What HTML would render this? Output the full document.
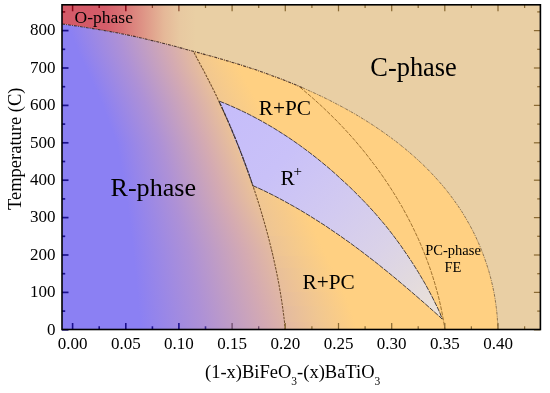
<!DOCTYPE html>
<html><head><meta charset="utf-8"><title>Phase diagram</title>
<style>html,body{margin:0;padding:0;background:#fff;}body{width:550px;height:393px;position:relative;overflow:hidden;font-family:"Liberation Serif",serif;}</style>
</head><body>
<svg width="550" height="393" viewBox="0 0 550 393" style="position:absolute;left:0;top:0;display:block">
<defs>
<linearGradient id="gH" x1="0" y1="0" x2="1" y2="0">
<stop offset="0" stop-color="#8b80f3"/>
<stop offset="0.3" stop-color="#ae91d6"/>
<stop offset="0.6" stop-color="#d4aab2"/>
<stop offset="0.85" stop-color="#eec594"/>
<stop offset="1" stop-color="#ffd082"/>
</linearGradient>
<linearGradient id="gh0" x1="0" y1="0" x2="1" y2="0"><stop offset="0" stop-color="#f1c790"/><stop offset="0.5" stop-color="#f8cc89"/><stop offset="1" stop-color="#ffd082"/></linearGradient>
<linearGradient id="gh1" x1="0" y1="0" x2="1" y2="0"><stop offset="0" stop-color="#f0c692"/><stop offset="0.5" stop-color="#f7cb8a"/><stop offset="1" stop-color="#ffd082"/></linearGradient>
<linearGradient id="gh2" x1="0" y1="0" x2="1" y2="0"><stop offset="0" stop-color="#eec594"/><stop offset="0.5" stop-color="#f6ca8b"/><stop offset="1" stop-color="#ffd082"/></linearGradient>
<linearGradient id="gh3" x1="0" y1="0" x2="1" y2="0"><stop offset="0" stop-color="#ecc396"/><stop offset="0.5" stop-color="#f5ca8c"/><stop offset="1" stop-color="#ffd082"/></linearGradient>
<linearGradient id="gh4" x1="0" y1="0" x2="1" y2="0"><stop offset="0" stop-color="#eac198"/><stop offset="0.5" stop-color="#f4c98d"/><stop offset="1" stop-color="#ffd082"/></linearGradient>
<linearGradient id="gh5" x1="0" y1="0" x2="1" y2="0"><stop offset="0" stop-color="#e8bf9a"/><stop offset="0.5" stop-color="#f3c98e"/><stop offset="1" stop-color="#ffd082"/></linearGradient>
<linearGradient id="gh6" x1="0" y1="0" x2="1" y2="0"><stop offset="0" stop-color="#e7bd9c"/><stop offset="0.5" stop-color="#f3c88f"/><stop offset="1" stop-color="#ffd082"/></linearGradient>
<linearGradient id="gh7" x1="0" y1="0" x2="1" y2="0"><stop offset="0" stop-color="#e5bc9e"/><stop offset="0.5" stop-color="#f2c790"/><stop offset="1" stop-color="#ffd082"/></linearGradient>
<linearGradient id="gh8" x1="0" y1="0" x2="1" y2="0"><stop offset="0" stop-color="#e3baa0"/><stop offset="0.5" stop-color="#f1c791"/><stop offset="1" stop-color="#ffd082"/></linearGradient>
<linearGradient id="gh9" x1="0" y1="0" x2="1" y2="0"><stop offset="0" stop-color="#e2b8a2"/><stop offset="0.5" stop-color="#f0c692"/><stop offset="1" stop-color="#ffd082"/></linearGradient>
<clipPath id="cO"><path d="M191.1 50.7 L198.1 52.6 L205.2 54.6 L212.3 56.5 L219.3 58.5 L226.3 60.6 L233.4 62.7 L240.4 64.8 L247.3 67.1 L254.3 69.3 L261.2 71.7 L268.1 74.2 L275.0 76.7 L281.9 79.3 L288.7 82.0 L295.5 84.8 L302.2 87.6 L308.9 90.6 L315.6 93.6 L322.2 96.7 L328.8 99.9 L335.3 103.3 L341.8 106.7 L348.2 110.2 L354.6 113.8 L360.9 117.6 L367.1 121.4 L373.3 125.4 L379.4 129.5 L385.4 133.7 L391.3 138.0 L397.2 142.4 L402.9 147.0 L408.6 151.7 L414.1 156.5 L419.6 161.5 L424.9 166.5 L430.0 171.7 L435.1 177.1 L439.9 182.5 L444.7 188.1 L449.2 193.8 L453.6 199.7 L457.8 205.6 L461.9 211.7 L465.7 218.0 L469.3 224.3 L472.8 230.8 L476.0 237.4 L479.0 244.1 L481.8 250.9 L484.4 257.7 L486.8 264.7 L489.0 271.7 L490.9 278.8 L492.6 285.9 L494.1 293.1 L495.3 300.3 L496.3 307.6 L497.1 314.9 L497.6 322.2 L497.8 329.5 L285.0 329.5 L284.5 322.0 L283.6 314.5 L282.6 307.0 L281.5 299.6 L280.3 292.2 L279.0 284.8 L277.6 277.4 L276.1 270.0 L274.5 262.6 L272.9 255.3 L271.1 248.0 L269.3 240.7 L267.4 233.4 L265.4 226.1 L263.3 218.9 L261.2 211.6 L259.0 204.4 L256.7 197.2 L254.4 190.1 L251.9 182.9 L249.5 175.8 L246.9 168.7 L244.3 161.7 L241.7 154.6 L239.0 147.6 L236.2 140.6 L233.3 133.7 L230.4 126.7 L227.4 119.8 L224.3 113.0 L221.2 106.1 L218.0 99.3 L214.8 92.5 L211.4 85.8 L208.0 79.1 L204.6 72.4 L201.0 65.7 L197.4 59.1 L194.0 52.4 Z"/></clipPath>
<clipPath id="cR"><path d="M62.0 329.5 L62.0 24.0 L62.0 24.0 L69.3 25.0 L76.5 26.0 L83.8 27.1 L91.0 28.3 L98.3 29.5 L105.5 30.7 L112.7 32.0 L119.9 33.4 L127.1 34.9 L134.2 36.4 L141.4 38.0 L148.5 39.7 L155.6 41.4 L162.7 43.2 L169.8 45.0 L176.9 46.9 L184.0 48.8 L191.1 50.7 L194.0 52.4 L197.4 59.1 L201.0 65.7 L204.6 72.4 L208.0 79.1 L211.4 85.8 L214.8 92.5 L218.0 99.3 L221.2 106.1 L224.3 113.0 L227.4 119.8 L230.4 126.7 L233.3 133.7 L236.2 140.6 L239.0 147.6 L241.7 154.6 L244.3 161.7 L246.9 168.7 L249.5 175.8 L251.9 182.9 L254.4 190.1 L256.7 197.2 L259.0 204.4 L261.2 211.6 L263.3 218.9 L265.4 226.1 L267.4 233.4 L269.3 240.7 L271.1 248.0 L272.9 255.3 L274.5 262.6 L276.1 270.0 L277.6 277.4 L279.0 284.8 L280.3 292.2 L281.5 299.6 L282.6 307.0 L283.6 314.5 L284.5 322.0 L285.0 329.5 L62.0 329.5 L191.1 50.7 L198.1 52.6 L205.2 54.6 L212.3 56.5 L219.3 58.5 L226.3 60.6 L233.4 62.7 L240.4 64.8 L247.3 67.1 L254.3 69.3 L261.2 71.7 L268.1 74.2 L275.0 76.7 L281.9 79.3 L288.7 82.0 L295.5 84.8 L302.2 87.6 L308.9 90.6 L315.6 93.6 L322.2 96.7 L328.8 99.9 L335.3 103.3 L341.8 106.7 L348.2 110.2 L354.6 113.8 L360.9 117.6 L367.1 121.4 L373.3 125.4 L379.4 129.5 L385.4 133.7 L391.3 138.0 L397.2 142.4 L402.9 147.0 L408.6 151.7 L414.1 156.5 L419.6 161.5 L424.9 166.5 L430.0 171.7 L435.1 177.1 L439.9 182.5 L444.7 188.1 L449.2 193.8 L453.6 199.7 L457.8 205.6 L461.9 211.7 L465.7 218.0 L469.3 224.3 L472.8 230.8 L476.0 237.4 L479.0 244.1 L481.8 250.9 L484.4 257.7 L486.8 264.7 L489.0 271.7 L490.9 278.8 L492.6 285.9 L494.1 293.1 L495.3 300.3 L496.3 307.6 L497.1 314.9 L497.6 322.2 L497.8 329.5 L285.0 329.5 L284.5 322.0 L283.6 314.5 L282.6 307.0 L281.5 299.6 L280.3 292.2 L279.0 284.8 L277.6 277.4 L276.1 270.0 L274.5 262.6 L272.9 255.3 L271.1 248.0 L269.3 240.7 L267.4 233.4 L265.4 226.1 L263.3 218.9 L261.2 211.6 L259.0 204.4 L256.7 197.2 L254.4 190.1 L251.9 182.9 L249.5 175.8 L246.9 168.7 L244.3 161.7 L241.7 154.6 L239.0 147.6 L236.2 140.6 L233.3 133.7 L230.4 126.7 L227.4 119.8 L224.3 113.0 L221.2 106.1 L218.0 99.3 L214.8 92.5 L211.4 85.8 L208.0 79.1 L204.6 72.4 L201.0 65.7 L197.4 59.1 L194.0 52.4 Z"/></clipPath>
<linearGradient id="gO" gradientUnits="userSpaceOnUse" x1="90" y1="0" x2="196" y2="0">
<stop offset="0" stop-color="#d45a68"/>
<stop offset="0.15" stop-color="#d55e6a"/>
<stop offset="0.3" stop-color="#d87174"/>
<stop offset="0.5" stop-color="#de9486"/>
<stop offset="0.7" stop-color="#e5b898"/>
<stop offset="0.85" stop-color="#e8c9a1"/>
<stop offset="1" stop-color="#e9cfa4"/>
</linearGradient>
<linearGradient id="gP" gradientUnits="userSpaceOnUse" x1="230" y1="110" x2="440" y2="315">
<stop offset="0" stop-color="#c6bdfa"/>
<stop offset="0.25" stop-color="#c9c1f8"/>
<stop offset="0.5" stop-color="#d2caf0"/>
<stop offset="0.7" stop-color="#dad2e8"/>
<stop offset="0.85" stop-color="#e2dade"/>
<stop offset="1" stop-color="#ece2d8"/>
</linearGradient>
</defs>
<rect x="0" y="0" width="550" height="393" fill="#ffffff"/>
<rect x="62.0" y="4.8" width="478.4" height="324.7" fill="#e9cfa4"/>
<path d="M62.0 4.8 L540.4 4.8 L540.4 329.5 L497.8 329.5 L497.6 322.2 L497.1 314.9 L496.3 307.6 L495.3 300.3 L494.1 293.1 L492.6 285.9 L490.9 278.8 L489.0 271.7 L486.8 264.7 L484.4 257.7 L481.8 250.9 L479.0 244.1 L476.0 237.4 L472.8 230.8 L469.3 224.3 L465.7 218.0 L461.9 211.7 L457.8 205.6 L453.6 199.7 L449.2 193.8 L444.7 188.1 L439.9 182.5 L435.1 177.1 L430.0 171.7 L424.9 166.5 L419.6 161.5 L414.1 156.5 L408.6 151.7 L402.9 147.0 L397.2 142.4 L391.3 138.0 L385.4 133.7 L379.4 129.5 L373.3 125.4 L367.1 121.4 L360.9 117.6 L354.6 113.8 L348.2 110.2 L341.8 106.7 L335.3 103.3 L328.8 99.9 L322.2 96.7 L315.6 93.6 L308.9 90.6 L302.2 87.6 L295.5 84.8 L288.7 82.0 L281.9 79.3 L275.0 76.7 L268.1 74.2 L261.2 71.7 L254.3 69.3 L247.3 67.1 L240.4 64.8 L233.4 62.7 L226.3 60.6 L219.3 58.5 L212.3 56.5 L205.2 54.6 L198.1 52.6 L191.1 50.7 L184.0 48.8 L176.9 46.9 L169.8 45.0 L162.7 43.2 L155.6 41.4 L148.5 39.7 L141.4 38.0 L134.2 36.4 L127.1 34.9 L119.9 33.4 L112.7 32.0 L105.5 30.7 L98.3 29.5 L91.0 28.3 L83.8 27.1 L76.5 26.0 L69.3 25.0 L62.0 24.0 Z" fill="url(#gO)"/>
<g clip-path="url(#cR)">
<rect x="60" y="20" width="440" height="312" fill="#ffd082"/>
<rect x="60" y="22" width="9.1" height="2" fill="#8b80f3"/><rect x="67.1" y="22" width="155.6" height="2" fill="url(#gH)"/>
<rect x="60" y="24" width="9.9" height="2" fill="#8b80f3"/><rect x="67.9" y="24" width="155.3" height="2" fill="url(#gH)"/>
<rect x="60" y="26" width="10.7" height="2" fill="#8b80f3"/><rect x="68.7" y="26" width="155.0" height="2" fill="url(#gH)"/>
<rect x="60" y="28" width="11.4" height="2" fill="#8b80f3"/><rect x="69.4" y="28" width="154.7" height="2" fill="url(#gH)"/>
<rect x="60" y="30" width="12.2" height="2" fill="#8b80f3"/><rect x="70.2" y="30" width="154.4" height="2" fill="url(#gH)"/>
<rect x="60" y="32" width="13.0" height="2" fill="#8b80f3"/><rect x="71.0" y="32" width="154.1" height="2" fill="url(#gH)"/>
<rect x="60" y="34" width="13.7" height="2" fill="#8b80f3"/><rect x="71.7" y="34" width="153.8" height="2" fill="url(#gH)"/>
<rect x="60" y="36" width="14.5" height="2" fill="#8b80f3"/><rect x="72.5" y="36" width="153.5" height="2" fill="url(#gH)"/>
<rect x="60" y="38" width="15.3" height="2" fill="#8b80f3"/><rect x="73.3" y="38" width="153.2" height="2" fill="url(#gH)"/>
<rect x="60" y="40" width="16.0" height="2" fill="#8b80f3"/><rect x="74.0" y="40" width="152.9" height="2" fill="url(#gH)"/>
<rect x="60" y="42" width="16.8" height="2" fill="#8b80f3"/><rect x="74.8" y="42" width="152.6" height="2" fill="url(#gH)"/>
<rect x="60" y="44" width="17.6" height="2" fill="#8b80f3"/><rect x="75.6" y="44" width="152.3" height="2" fill="url(#gH)"/>
<rect x="60" y="46" width="18.3" height="2" fill="#8b80f3"/><rect x="76.3" y="46" width="152.0" height="2" fill="url(#gH)"/>
<rect x="60" y="48" width="19.1" height="2" fill="#8b80f3"/><rect x="77.1" y="48" width="151.7" height="2" fill="url(#gH)"/>
<rect x="60" y="50" width="19.9" height="2" fill="#8b80f3"/><rect x="77.9" y="50" width="151.4" height="2" fill="url(#gH)"/>
<rect x="60" y="52" width="20.6" height="2" fill="#8b80f3"/><rect x="78.6" y="52" width="151.1" height="2" fill="url(#gH)"/>
<rect x="60" y="54" width="21.5" height="2" fill="#8b80f3"/><rect x="79.5" y="54" width="150.8" height="2" fill="url(#gH)"/>
<rect x="60" y="56" width="22.5" height="2" fill="#8b80f3"/><rect x="80.5" y="56" width="150.2" height="2" fill="url(#gH)"/>
<rect x="60" y="58" width="23.5" height="2" fill="#8b80f3"/><rect x="81.5" y="58" width="149.8" height="2" fill="url(#gH)"/>
<rect x="60" y="60" width="24.5" height="2" fill="#8b80f3"/><rect x="82.5" y="60" width="149.2" height="2" fill="url(#gH)"/>
<rect x="60" y="62" width="25.5" height="2" fill="#8b80f3"/><rect x="83.5" y="62" width="148.8" height="2" fill="url(#gH)"/>
<rect x="60" y="64" width="26.5" height="2" fill="#8b80f3"/><rect x="84.5" y="64" width="148.2" height="2" fill="url(#gH)"/>
<rect x="60" y="66" width="27.5" height="2" fill="#8b80f3"/><rect x="85.5" y="66" width="147.8" height="2" fill="url(#gH)"/>
<rect x="60" y="68" width="28.5" height="2" fill="#8b80f3"/><rect x="86.5" y="68" width="147.2" height="2" fill="url(#gH)"/>
<rect x="60" y="70" width="29.4" height="2" fill="#8b80f3"/><rect x="87.4" y="70" width="147.0" height="2" fill="url(#gH)"/>
<rect x="60" y="72" width="30.3" height="2" fill="#8b80f3"/><rect x="88.3" y="72" width="147.0" height="2" fill="url(#gH)"/>
<rect x="60" y="74" width="31.2" height="2" fill="#8b80f3"/><rect x="89.2" y="74" width="147.0" height="2" fill="url(#gH)"/>
<rect x="60" y="76" width="32.1" height="2" fill="#8b80f3"/><rect x="90.1" y="76" width="147.0" height="2" fill="url(#gH)"/>
<rect x="60" y="78" width="33.0" height="2" fill="#8b80f3"/><rect x="91.0" y="78" width="147.0" height="2" fill="url(#gH)"/>
<rect x="60" y="80" width="33.9" height="2" fill="#8b80f3"/><rect x="91.9" y="80" width="147.0" height="2" fill="url(#gH)"/>
<rect x="60" y="82" width="34.7" height="2" fill="#8b80f3"/><rect x="92.7" y="82" width="147.0" height="2" fill="url(#gH)"/>
<rect x="60" y="84" width="35.6" height="2" fill="#8b80f3"/><rect x="93.6" y="84" width="147.0" height="2" fill="url(#gH)"/>
<rect x="60" y="86" width="36.5" height="2" fill="#8b80f3"/><rect x="94.5" y="86" width="147.0" height="2" fill="url(#gH)"/>
<rect x="60" y="88" width="37.4" height="2" fill="#8b80f3"/><rect x="95.4" y="88" width="147.0" height="2" fill="url(#gH)"/>
<rect x="60" y="90" width="38.3" height="2" fill="#8b80f3"/><rect x="96.3" y="90" width="147.0" height="2" fill="url(#gH)"/>
<rect x="60" y="92" width="39.1" height="2" fill="#8b80f3"/><rect x="97.1" y="92" width="147.0" height="2" fill="url(#gH)"/>
<rect x="60" y="94" width="40.0" height="2" fill="#8b80f3"/><rect x="98.0" y="94" width="147.0" height="2" fill="url(#gH)"/>
<rect x="60" y="96" width="40.9" height="2" fill="#8b80f3"/><rect x="98.9" y="96" width="147.0" height="2" fill="url(#gH)"/>
<rect x="60" y="98" width="41.8" height="2" fill="#8b80f3"/><rect x="99.8" y="98" width="147.0" height="2" fill="url(#gH)"/>
<rect x="60" y="100" width="42.7" height="2" fill="#8b80f3"/><rect x="100.7" y="100" width="147.0" height="2" fill="url(#gH)"/>
<rect x="60" y="102" width="43.6" height="2" fill="#8b80f3"/><rect x="101.6" y="102" width="147.0" height="2" fill="url(#gH)"/>
<rect x="60" y="104" width="44.4" height="2" fill="#8b80f3"/><rect x="102.4" y="104" width="147.0" height="2" fill="url(#gH)"/>
<rect x="60" y="106" width="45.1" height="2" fill="#8b80f3"/><rect x="103.1" y="106" width="146.9" height="2" fill="url(#gH)"/>
<rect x="60" y="108" width="45.9" height="2" fill="#8b80f3"/><rect x="103.9" y="108" width="146.9" height="2" fill="url(#gH)"/>
<rect x="60" y="110" width="46.6" height="2" fill="#8b80f3"/><rect x="104.6" y="110" width="146.8" height="2" fill="url(#gH)"/>
<rect x="60" y="112" width="47.4" height="2" fill="#8b80f3"/><rect x="105.4" y="112" width="146.8" height="2" fill="url(#gH)"/>
<rect x="60" y="114" width="48.1" height="2" fill="#8b80f3"/><rect x="106.1" y="114" width="146.7" height="2" fill="url(#gH)"/>
<rect x="60" y="116" width="48.9" height="2" fill="#8b80f3"/><rect x="106.9" y="116" width="146.7" height="2" fill="url(#gH)"/>
<rect x="60" y="118" width="49.6" height="2" fill="#8b80f3"/><rect x="107.6" y="118" width="146.6" height="2" fill="url(#gH)"/>
<rect x="60" y="120" width="50.4" height="2" fill="#8b80f3"/><rect x="108.4" y="120" width="146.6" height="2" fill="url(#gH)"/>
<rect x="60" y="122" width="51.1" height="2" fill="#8b80f3"/><rect x="109.1" y="122" width="146.5" height="2" fill="url(#gH)"/>
<rect x="60" y="124" width="51.9" height="2" fill="#8b80f3"/><rect x="109.9" y="124" width="146.5" height="2" fill="url(#gH)"/>
<rect x="60" y="126" width="52.6" height="2" fill="#8b80f3"/><rect x="110.6" y="126" width="146.4" height="2" fill="url(#gH)"/>
<rect x="60" y="128" width="53.4" height="2" fill="#8b80f3"/><rect x="111.4" y="128" width="146.4" height="2" fill="url(#gH)"/>
<rect x="60" y="130" width="54.1" height="2" fill="#8b80f3"/><rect x="112.1" y="130" width="146.3" height="2" fill="url(#gH)"/>
<rect x="60" y="132" width="54.9" height="2" fill="#8b80f3"/><rect x="112.9" y="132" width="146.3" height="2" fill="url(#gH)"/>
<rect x="60" y="134" width="55.6" height="2" fill="#8b80f3"/><rect x="113.6" y="134" width="146.2" height="2" fill="url(#gH)"/>
<rect x="60" y="136" width="56.4" height="2" fill="#8b80f3"/><rect x="114.4" y="136" width="146.2" height="2" fill="url(#gH)"/>
<rect x="60" y="138" width="57.1" height="2" fill="#8b80f3"/><rect x="115.1" y="138" width="146.1" height="2" fill="url(#gH)"/>
<rect x="60" y="140" width="57.9" height="2" fill="#8b80f3"/><rect x="115.9" y="140" width="146.1" height="2" fill="url(#gH)"/>
<rect x="60" y="142" width="58.6" height="2" fill="#8b80f3"/><rect x="116.6" y="142" width="146.0" height="2" fill="url(#gH)"/>
<rect x="60" y="144" width="59.2" height="2" fill="#8b80f3"/><rect x="117.2" y="144" width="146.2" height="2" fill="url(#gH)"/>
<rect x="60" y="146" width="59.5" height="2" fill="#8b80f3"/><rect x="117.5" y="146" width="146.8" height="2" fill="url(#gH)"/>
<rect x="60" y="148" width="59.9" height="2" fill="#8b80f3"/><rect x="117.9" y="148" width="147.2" height="2" fill="url(#gH)"/>
<rect x="60" y="150" width="60.2" height="2" fill="#8b80f3"/><rect x="118.2" y="150" width="147.8" height="2" fill="url(#gH)"/>
<rect x="60" y="152" width="60.6" height="2" fill="#8b80f3"/><rect x="118.6" y="152" width="148.2" height="2" fill="url(#gH)"/>
<rect x="60" y="154" width="61.0" height="2" fill="#8b80f3"/><rect x="119.0" y="154" width="148.8" height="2" fill="url(#gH)"/>
<rect x="60" y="156" width="61.3" height="2" fill="#8b80f3"/><rect x="119.3" y="156" width="149.2" height="2" fill="url(#gH)"/>
<rect x="60" y="158" width="61.7" height="2" fill="#8b80f3"/><rect x="119.7" y="158" width="149.8" height="2" fill="url(#gH)"/>
<rect x="60" y="160" width="62.0" height="2" fill="#8b80f3"/><rect x="120.0" y="160" width="150.2" height="2" fill="url(#gH)"/>
<rect x="60" y="162" width="62.4" height="2" fill="#8b80f3"/><rect x="120.4" y="162" width="150.8" height="2" fill="url(#gH)"/>
<rect x="60" y="164" width="62.8" height="2" fill="#8b80f3"/><rect x="120.8" y="164" width="151.2" height="2" fill="url(#gH)"/>
<rect x="60" y="166" width="63.1" height="2" fill="#8b80f3"/><rect x="121.1" y="166" width="151.8" height="2" fill="url(#gH)"/>
<rect x="60" y="168" width="63.5" height="2" fill="#8b80f3"/><rect x="121.5" y="168" width="152.2" height="2" fill="url(#gH)"/>
<rect x="60" y="170" width="63.8" height="2" fill="#8b80f3"/><rect x="121.8" y="170" width="152.8" height="2" fill="url(#gH)"/>
<rect x="60" y="172" width="64.2" height="2" fill="#8b80f3"/><rect x="122.2" y="172" width="153.2" height="2" fill="url(#gH)"/>
<rect x="60" y="174" width="64.5" height="2" fill="#8b80f3"/><rect x="122.5" y="174" width="153.8" height="2" fill="url(#gH)"/>
<rect x="60" y="176" width="64.9" height="2" fill="#8b80f3"/><rect x="122.9" y="176" width="154.2" height="2" fill="url(#gH)"/>
<rect x="60" y="178" width="65.2" height="2" fill="#8b80f3"/><rect x="123.2" y="178" width="154.8" height="2" fill="url(#gH)"/>
<rect x="60" y="180" width="65.6" height="2" fill="#8b80f3"/><rect x="123.6" y="180" width="155.2" height="2" fill="url(#gH)"/>
<rect x="60" y="182" width="66.0" height="2" fill="#8b80f3"/><rect x="124.0" y="182" width="155.8" height="2" fill="url(#gH)"/>
<rect x="60" y="184" width="66.3" height="2" fill="#8b80f3"/><rect x="124.3" y="184" width="156.2" height="2" fill="url(#gH)"/>
<rect x="60" y="186" width="66.7" height="2" fill="#8b80f3"/><rect x="124.7" y="186" width="156.8" height="2" fill="url(#gH)"/>
<rect x="60" y="188" width="67.0" height="2" fill="#8b80f3"/><rect x="125.0" y="188" width="157.2" height="2" fill="url(#gH)"/>
<rect x="60" y="190" width="67.4" height="2" fill="#8b80f3"/><rect x="125.4" y="190" width="157.8" height="2" fill="url(#gH)"/>
<rect x="60" y="192" width="67.8" height="2" fill="#8b80f3"/><rect x="125.8" y="192" width="158.2" height="2" fill="url(#gH)"/>
<rect x="60" y="194" width="68.1" height="2" fill="#8b80f3"/><rect x="126.1" y="194" width="158.8" height="2" fill="url(#gH)"/>
<rect x="60" y="196" width="68.5" height="2" fill="#8b80f3"/><rect x="126.5" y="196" width="159.2" height="2" fill="url(#gH)"/>
<rect x="60" y="198" width="68.8" height="2" fill="#8b80f3"/><rect x="126.8" y="198" width="159.8" height="2" fill="url(#gH)"/>
<rect x="60" y="200" width="69.1" height="2" fill="#8b80f3"/><rect x="127.1" y="200" width="160.5" height="2" fill="url(#gH)"/>
<rect x="60" y="202" width="69.4" height="2" fill="#8b80f3"/><rect x="127.4" y="202" width="161.5" height="2" fill="url(#gH)"/>
<rect x="60" y="204" width="69.6" height="2" fill="#8b80f3"/><rect x="127.6" y="204" width="162.5" height="2" fill="url(#gH)"/>
<rect x="60" y="206" width="69.8" height="2" fill="#8b80f3"/><rect x="127.8" y="206" width="163.5" height="2" fill="url(#gH)"/>
<rect x="60" y="208" width="70.1" height="2" fill="#8b80f3"/><rect x="128.1" y="208" width="164.5" height="2" fill="url(#gH)"/>
<rect x="60" y="210" width="70.3" height="2" fill="#8b80f3"/><rect x="128.3" y="210" width="165.5" height="2" fill="url(#gH)"/>
<rect x="60" y="212" width="70.6" height="2" fill="#8b80f3"/><rect x="128.6" y="212" width="166.5" height="2" fill="url(#gH)"/>
<rect x="60" y="214" width="70.8" height="2" fill="#8b80f3"/><rect x="128.8" y="214" width="167.5" height="2" fill="url(#gH)"/>
<rect x="60" y="216" width="71.0" height="2" fill="#8b80f3"/><rect x="129.0" y="216" width="168.5" height="2" fill="url(#gH)"/>
<rect x="60" y="218" width="71.3" height="2" fill="#8b80f3"/><rect x="129.3" y="218" width="169.5" height="2" fill="url(#gH)"/>
<rect x="60" y="220" width="71.5" height="2" fill="#8b80f3"/><rect x="129.5" y="220" width="170.5" height="2" fill="url(#gH)"/>
<rect x="60" y="222" width="71.8" height="2" fill="#8b80f3"/><rect x="129.8" y="222" width="171.5" height="2" fill="url(#gH)"/>
<rect x="60" y="224" width="72.0" height="2" fill="#8b80f3"/><rect x="130.0" y="224" width="172.5" height="2" fill="url(#gH)"/>
<rect x="60" y="226" width="72.2" height="2" fill="#8b80f3"/><rect x="130.2" y="226" width="173.5" height="2" fill="url(#gH)"/>
<rect x="60" y="228" width="72.5" height="2" fill="#8b80f3"/><rect x="130.5" y="228" width="174.5" height="2" fill="url(#gH)"/>
<rect x="60" y="230" width="72.7" height="2" fill="#8b80f3"/><rect x="130.7" y="230" width="175.5" height="2" fill="url(#gH)"/>
<rect x="60" y="232" width="73.0" height="2" fill="#8b80f3"/><rect x="131.0" y="232" width="176.5" height="2" fill="url(#gH)"/>
<rect x="60" y="234" width="73.2" height="2" fill="#8b80f3"/><rect x="131.2" y="234" width="177.5" height="2" fill="url(#gH)"/>
<rect x="60" y="236" width="73.4" height="2" fill="#8b80f3"/><rect x="131.4" y="236" width="178.5" height="2" fill="url(#gH)"/>
<rect x="60" y="238" width="73.7" height="2" fill="#8b80f3"/><rect x="131.7" y="238" width="179.5" height="2" fill="url(#gH)"/>
<rect x="60" y="240" width="73.9" height="2" fill="#8b80f3"/><rect x="131.9" y="240" width="180.5" height="2" fill="url(#gH)"/>
<rect x="60" y="242" width="74.2" height="2" fill="#8b80f3"/><rect x="132.2" y="242" width="181.5" height="2" fill="url(#gH)"/>
<rect x="60" y="244" width="74.4" height="2" fill="#8b80f3"/><rect x="132.4" y="244" width="182.5" height="2" fill="url(#gH)"/>
<rect x="60" y="246" width="74.6" height="2" fill="#8b80f3"/><rect x="132.6" y="246" width="183.5" height="2" fill="url(#gH)"/>
<rect x="60" y="248" width="74.9" height="2" fill="#8b80f3"/><rect x="132.9" y="248" width="184.5" height="2" fill="url(#gH)"/>
<rect x="60" y="250" width="75.1" height="2" fill="#8b80f3"/><rect x="133.1" y="250" width="185.3" height="2" fill="url(#gH)"/>
<rect x="60" y="252" width="75.3" height="2" fill="#8b80f3"/><rect x="133.3" y="252" width="186.0" height="2" fill="url(#gH)"/>
<rect x="60" y="254" width="75.5" height="2" fill="#8b80f3"/><rect x="133.5" y="254" width="186.7" height="2" fill="url(#gH)"/>
<rect x="60" y="256" width="75.7" height="2" fill="#8b80f3"/><rect x="133.7" y="256" width="187.3" height="2" fill="url(#gH)"/>
<rect x="60" y="258" width="75.9" height="2" fill="#8b80f3"/><rect x="133.9" y="258" width="188.0" height="2" fill="url(#gH)"/>
<rect x="60" y="260" width="76.1" height="2" fill="#8b80f3"/><rect x="134.1" y="260" width="188.7" height="2" fill="url(#gH)"/>
<rect x="60" y="262" width="76.3" height="2" fill="#8b80f3"/><rect x="134.3" y="262" width="189.3" height="2" fill="url(#gH)"/>
<rect x="60" y="264" width="76.5" height="2" fill="#8b80f3"/><rect x="134.5" y="264" width="190.0" height="2" fill="url(#gH)"/>
<rect x="60" y="266" width="76.7" height="2" fill="#8b80f3"/><rect x="134.7" y="266" width="190.7" height="2" fill="url(#gH)"/>
<rect x="60" y="268" width="76.9" height="2" fill="#8b80f3"/><rect x="134.9" y="268" width="191.3" height="2" fill="url(#gH)"/>
<rect x="60" y="270" width="77.1" height="2" fill="#8b80f3"/><rect x="135.1" y="270" width="192.0" height="2" fill="url(#gH)"/>
<rect x="60" y="272" width="77.3" height="2" fill="#8b80f3"/><rect x="135.3" y="272" width="192.7" height="2" fill="url(#gH)"/>
<rect x="60" y="274" width="77.5" height="2" fill="#8b80f3"/><rect x="135.5" y="274" width="193.3" height="2" fill="url(#gH)"/>
<rect x="60" y="276" width="77.7" height="2" fill="#8b80f3"/><rect x="135.7" y="276" width="194.0" height="2" fill="url(#gH)"/>
<rect x="60" y="278" width="77.9" height="2" fill="#8b80f3"/><rect x="135.9" y="278" width="194.7" height="2" fill="url(#gH)"/>
<rect x="60" y="280" width="78.1" height="2" fill="#8b80f3"/><rect x="136.1" y="280" width="195.3" height="2" fill="url(#gH)"/>
<rect x="60" y="282" width="78.3" height="2" fill="#8b80f3"/><rect x="136.3" y="282" width="196.0" height="2" fill="url(#gH)"/>
<rect x="60" y="284" width="78.5" height="2" fill="#8b80f3"/><rect x="136.5" y="284" width="196.7" height="2" fill="url(#gH)"/>
<rect x="60" y="286" width="78.7" height="2" fill="#8b80f3"/><rect x="136.7" y="286" width="197.3" height="2" fill="url(#gH)"/>
<rect x="60" y="288" width="78.9" height="2" fill="#8b80f3"/><rect x="136.9" y="288" width="198.0" height="2" fill="url(#gH)"/>
<rect x="60" y="290" width="79.1" height="2" fill="#8b80f3"/><rect x="137.1" y="290" width="198.7" height="2" fill="url(#gH)"/>
<rect x="60" y="292" width="79.3" height="2" fill="#8b80f3"/><rect x="137.3" y="292" width="199.3" height="2" fill="url(#gH)"/>
<rect x="60" y="294" width="79.5" height="2" fill="#8b80f3"/><rect x="137.5" y="294" width="200.0" height="2" fill="url(#gH)"/>
<rect x="60" y="296" width="79.7" height="2" fill="#8b80f3"/><rect x="137.7" y="296" width="200.7" height="2" fill="url(#gH)"/>
<rect x="60" y="298" width="79.9" height="2" fill="#8b80f3"/><rect x="137.9" y="298" width="201.3" height="2" fill="url(#gH)"/>
<rect x="60" y="300" width="80.1" height="2" fill="#8b80f3"/><rect x="138.1" y="300" width="202.0" height="2" fill="url(#gH)"/>
<rect x="60" y="302" width="80.3" height="2" fill="#8b80f3"/><rect x="138.3" y="302" width="202.7" height="2" fill="url(#gH)"/>
<rect x="60" y="304" width="80.5" height="2" fill="#8b80f3"/><rect x="138.5" y="304" width="203.3" height="2" fill="url(#gH)"/>
<rect x="60" y="306" width="80.7" height="2" fill="#8b80f3"/><rect x="138.7" y="306" width="204.0" height="2" fill="url(#gH)"/>
<rect x="60" y="308" width="80.9" height="2" fill="#8b80f3"/><rect x="138.9" y="308" width="204.7" height="2" fill="url(#gH)"/>
<rect x="60" y="310" width="81.1" height="2" fill="#8b80f3"/><rect x="139.1" y="310" width="205.3" height="2" fill="url(#gH)"/>
<rect x="60" y="312" width="81.3" height="2" fill="#8b80f3"/><rect x="139.3" y="312" width="206.0" height="2" fill="url(#gH)"/>
<rect x="60" y="314" width="81.5" height="2" fill="#8b80f3"/><rect x="139.5" y="314" width="206.6" height="2" fill="url(#gH)"/>
<rect x="60" y="316" width="81.6" height="2" fill="#8b80f3"/><rect x="139.6" y="316" width="207.2" height="2" fill="url(#gH)"/>
<rect x="60" y="318" width="81.8" height="2" fill="#8b80f3"/><rect x="139.8" y="318" width="207.9" height="2" fill="url(#gH)"/>
<rect x="60" y="320" width="82.0" height="2" fill="#8b80f3"/><rect x="140.0" y="320" width="208.5" height="2" fill="url(#gH)"/>
<rect x="60" y="322" width="82.2" height="2" fill="#8b80f3"/><rect x="140.2" y="322" width="209.1" height="2" fill="url(#gH)"/>
<rect x="60" y="324" width="82.4" height="2" fill="#8b80f3"/><rect x="140.4" y="324" width="209.8" height="2" fill="url(#gH)"/>
<rect x="60" y="326" width="82.5" height="2" fill="#8b80f3"/><rect x="140.5" y="326" width="210.4" height="2" fill="url(#gH)"/>
<rect x="60" y="328" width="82.7" height="2" fill="#8b80f3"/><rect x="140.7" y="328" width="211.0" height="2" fill="url(#gH)"/>
<rect x="60" y="330" width="82.9" height="2" fill="#8b80f3"/><rect x="140.9" y="330" width="211.7" height="2" fill="url(#gH)"/>
</g>
<g clip-path="url(#cO)">
<rect x="180" y="40" width="330" height="292" fill="#ffd082"/>
<rect x="191.0" y="50" width="5" height="2" fill="#f1c790"/><rect x="194.0" y="50" width="36.0" height="2" fill="url(#gh0)"/>
<rect x="191.3" y="52" width="5" height="2" fill="#f1c790"/><rect x="194.3" y="52" width="36.0" height="2" fill="url(#gh0)"/>
<rect x="192.3" y="54" width="5" height="2" fill="#f1c790"/><rect x="195.3" y="54" width="36.1" height="2" fill="url(#gh0)"/>
<rect x="193.3" y="56" width="5" height="2" fill="#f1c790"/><rect x="196.3" y="56" width="36.2" height="2" fill="url(#gh0)"/>
<rect x="194.3" y="58" width="5" height="2" fill="#f1c790"/><rect x="197.3" y="58" width="36.3" height="2" fill="url(#gh0)"/>
<rect x="195.4" y="60" width="5" height="2" fill="#f1c790"/><rect x="198.4" y="60" width="36.4" height="2" fill="url(#gh0)"/>
<rect x="196.5" y="62" width="5" height="2" fill="#f1c790"/><rect x="199.5" y="62" width="36.4" height="2" fill="url(#gh0)"/>
<rect x="197.6" y="64" width="5" height="2" fill="#f1c791"/><rect x="200.6" y="64" width="36.5" height="2" fill="url(#gh0)"/>
<rect x="198.7" y="66" width="5" height="2" fill="#f1c791"/><rect x="201.7" y="66" width="36.6" height="2" fill="url(#gh0)"/>
<rect x="199.7" y="68" width="5" height="2" fill="#f1c791"/><rect x="202.7" y="68" width="36.7" height="2" fill="url(#gh0)"/>
<rect x="200.8" y="70" width="5" height="2" fill="#f1c791"/><rect x="203.8" y="70" width="36.8" height="2" fill="url(#gh0)"/>
<rect x="201.9" y="72" width="5" height="2" fill="#f1c791"/><rect x="204.9" y="72" width="36.9" height="2" fill="url(#gh0)"/>
<rect x="202.9" y="74" width="5" height="2" fill="#f1c791"/><rect x="205.9" y="74" width="36.9" height="2" fill="url(#gh0)"/>
<rect x="204.0" y="76" width="5" height="2" fill="#f1c791"/><rect x="207.0" y="76" width="37.0" height="2" fill="url(#gh0)"/>
<rect x="205.0" y="78" width="5" height="2" fill="#f1c791"/><rect x="208.0" y="78" width="37.1" height="2" fill="url(#gh0)"/>
<rect x="206.0" y="80" width="5" height="2" fill="#f1c791"/><rect x="209.0" y="80" width="37.2" height="2" fill="url(#gh0)"/>
<rect x="207.0" y="82" width="5" height="2" fill="#f1c791"/><rect x="210.0" y="82" width="37.3" height="2" fill="url(#gh0)"/>
<rect x="208.0" y="84" width="5" height="2" fill="#f1c791"/><rect x="211.0" y="84" width="37.3" height="2" fill="url(#gh0)"/>
<rect x="209.0" y="86" width="5" height="2" fill="#f1c791"/><rect x="212.0" y="86" width="37.4" height="2" fill="url(#gh0)"/>
<rect x="210.0" y="88" width="5" height="2" fill="#f1c791"/><rect x="213.0" y="88" width="37.5" height="2" fill="url(#gh0)"/>
<rect x="211.0" y="90" width="5" height="2" fill="#f1c791"/><rect x="214.0" y="90" width="37.6" height="2" fill="url(#gh0)"/>
<rect x="212.0" y="92" width="5" height="2" fill="#f1c791"/><rect x="215.0" y="92" width="37.7" height="2" fill="url(#gh0)"/>
<rect x="213.0" y="94" width="5" height="2" fill="#f1c791"/><rect x="216.0" y="94" width="37.8" height="2" fill="url(#gh0)"/>
<rect x="213.9" y="96" width="5" height="2" fill="#f1c791"/><rect x="216.9" y="96" width="37.8" height="2" fill="url(#gh0)"/>
<rect x="214.9" y="98" width="5" height="2" fill="#f1c791"/><rect x="217.9" y="98" width="37.9" height="2" fill="url(#gh0)"/>
<rect x="215.8" y="100" width="5" height="2" fill="#f1c791"/><rect x="218.8" y="100" width="38.0" height="2" fill="url(#gh0)"/>
<rect x="216.8" y="102" width="5" height="2" fill="#f1c791"/><rect x="219.8" y="102" width="38.0" height="2" fill="url(#gh0)"/>
<rect x="217.7" y="104" width="5" height="2" fill="#f1c791"/><rect x="220.7" y="104" width="38.1" height="2" fill="url(#gh0)"/>
<rect x="218.6" y="106" width="5" height="2" fill="#f1c791"/><rect x="221.6" y="106" width="38.1" height="2" fill="url(#gh0)"/>
<rect x="219.5" y="108" width="5" height="2" fill="#f1c791"/><rect x="222.5" y="108" width="38.2" height="2" fill="url(#gh0)"/>
<rect x="220.4" y="110" width="5" height="2" fill="#f1c791"/><rect x="223.4" y="110" width="38.2" height="2" fill="url(#gh0)"/>
<rect x="221.4" y="112" width="5" height="2" fill="#f1c791"/><rect x="224.4" y="112" width="38.3" height="2" fill="url(#gh0)"/>
<rect x="222.3" y="114" width="5" height="2" fill="#f1c791"/><rect x="225.3" y="114" width="38.3" height="2" fill="url(#gh0)"/>
<rect x="223.1" y="116" width="5" height="2" fill="#f1c791"/><rect x="226.1" y="116" width="38.4" height="2" fill="url(#gh0)"/>
<rect x="224.0" y="118" width="5" height="2" fill="#f1c791"/><rect x="227.0" y="118" width="38.4" height="2" fill="url(#gh0)"/>
<rect x="224.9" y="120" width="5" height="2" fill="#f1c791"/><rect x="227.9" y="120" width="38.5" height="2" fill="url(#gh0)"/>
<rect x="225.8" y="122" width="5" height="2" fill="#f1c791"/><rect x="228.8" y="122" width="38.5" height="2" fill="url(#gh0)"/>
<rect x="226.6" y="124" width="5" height="2" fill="#f1c791"/><rect x="229.6" y="124" width="38.6" height="2" fill="url(#gh0)"/>
<rect x="227.5" y="126" width="5" height="2" fill="#f1c791"/><rect x="230.5" y="126" width="38.6" height="2" fill="url(#gh0)"/>
<rect x="228.3" y="128" width="5" height="2" fill="#f1c791"/><rect x="231.3" y="128" width="38.7" height="2" fill="url(#gh0)"/>
<rect x="229.2" y="130" width="5" height="2" fill="#f1c791"/><rect x="232.2" y="130" width="38.7" height="2" fill="url(#gh0)"/>
<rect x="230.0" y="132" width="5" height="2" fill="#f1c791"/><rect x="233.0" y="132" width="38.8" height="2" fill="url(#gh0)"/>
<rect x="230.9" y="134" width="5" height="2" fill="#f1c791"/><rect x="233.9" y="134" width="38.8" height="2" fill="url(#gh0)"/>
<rect x="231.7" y="136" width="5" height="2" fill="#f1c791"/><rect x="234.7" y="136" width="38.9" height="2" fill="url(#gh0)"/>
<rect x="232.5" y="138" width="5" height="2" fill="#f1c791"/><rect x="235.5" y="138" width="38.9" height="2" fill="url(#gh0)"/>
<rect x="233.3" y="140" width="5" height="2" fill="#f1c791"/><rect x="236.3" y="140" width="39.0" height="2" fill="url(#gh0)"/>
<rect x="234.1" y="142" width="5" height="2" fill="#f1c791"/><rect x="237.1" y="142" width="39.0" height="2" fill="url(#gh0)"/>
<rect x="234.9" y="144" width="5" height="2" fill="#f1c791"/><rect x="237.9" y="144" width="39.0" height="2" fill="url(#gh0)"/>
<rect x="235.7" y="146" width="5" height="2" fill="#f1c791"/><rect x="238.7" y="146" width="39.1" height="2" fill="url(#gh0)"/>
<rect x="236.5" y="148" width="5" height="2" fill="#f1c791"/><rect x="239.5" y="148" width="39.1" height="2" fill="url(#gh0)"/>
<rect x="237.3" y="150" width="5" height="2" fill="#f1c791"/><rect x="240.3" y="150" width="39.2" height="2" fill="url(#gh0)"/>
<rect x="238.1" y="152" width="5" height="2" fill="#f1c791"/><rect x="241.1" y="152" width="39.2" height="2" fill="url(#gh0)"/>
<rect x="238.8" y="154" width="5" height="2" fill="#f1c791"/><rect x="241.8" y="154" width="39.3" height="2" fill="url(#gh0)"/>
<rect x="239.6" y="156" width="5" height="2" fill="#f1c791"/><rect x="242.6" y="156" width="39.3" height="2" fill="url(#gh0)"/>
<rect x="240.3" y="158" width="5" height="2" fill="#f0c791"/><rect x="243.3" y="158" width="39.4" height="2" fill="url(#gh0)"/>
<rect x="241.1" y="160" width="5" height="2" fill="#f0c791"/><rect x="244.1" y="160" width="39.4" height="2" fill="url(#gh0)"/>
<rect x="241.8" y="162" width="5" height="2" fill="#f0c791"/><rect x="244.8" y="162" width="39.5" height="2" fill="url(#gh1)"/>
<rect x="242.6" y="164" width="5" height="2" fill="#f0c791"/><rect x="245.6" y="164" width="39.5" height="2" fill="url(#gh1)"/>
<rect x="243.3" y="166" width="5" height="2" fill="#f0c791"/><rect x="246.3" y="166" width="39.6" height="2" fill="url(#gh1)"/>
<rect x="244.0" y="168" width="5" height="2" fill="#f0c791"/><rect x="247.0" y="168" width="39.6" height="2" fill="url(#gh1)"/>
<rect x="244.8" y="170" width="5" height="2" fill="#f0c791"/><rect x="247.8" y="170" width="39.7" height="2" fill="url(#gh1)"/>
<rect x="245.5" y="172" width="5" height="2" fill="#f0c791"/><rect x="248.5" y="172" width="39.7" height="2" fill="url(#gh1)"/>
<rect x="246.2" y="174" width="5" height="2" fill="#f0c792"/><rect x="249.2" y="174" width="39.8" height="2" fill="url(#gh1)"/>
<rect x="246.9" y="176" width="5" height="2" fill="#f0c792"/><rect x="249.9" y="176" width="39.8" height="2" fill="url(#gh1)"/>
<rect x="247.6" y="178" width="5" height="2" fill="#f0c692"/><rect x="250.6" y="178" width="39.9" height="2" fill="url(#gh1)"/>
<rect x="248.3" y="180" width="5" height="2" fill="#f0c692"/><rect x="251.3" y="180" width="39.9" height="2" fill="url(#gh1)"/>
<rect x="249.0" y="182" width="5" height="2" fill="#f0c692"/><rect x="252.0" y="182" width="40.0" height="2" fill="url(#gh1)"/>
<rect x="249.6" y="184" width="5" height="2" fill="#f0c692"/><rect x="252.6" y="184" width="40.0" height="2" fill="url(#gh1)"/>
<rect x="250.3" y="186" width="5" height="2" fill="#f0c692"/><rect x="253.3" y="186" width="40.4" height="2" fill="url(#gh1)"/>
<rect x="251.0" y="188" width="5" height="2" fill="#f0c692"/><rect x="254.0" y="188" width="40.7" height="2" fill="url(#gh1)"/>
<rect x="251.7" y="190" width="5" height="2" fill="#f0c692"/><rect x="254.7" y="190" width="41.1" height="2" fill="url(#gh1)"/>
<rect x="252.3" y="192" width="5" height="2" fill="#f0c692"/><rect x="255.3" y="192" width="41.5" height="2" fill="url(#gh1)"/>
<rect x="253.0" y="194" width="5" height="2" fill="#f0c692"/><rect x="256.0" y="194" width="41.8" height="2" fill="url(#gh1)"/>
<rect x="253.6" y="196" width="5" height="2" fill="#efc692"/><rect x="256.6" y="196" width="42.2" height="2" fill="url(#gh1)"/>
<rect x="254.3" y="198" width="5" height="2" fill="#efc693"/><rect x="257.3" y="198" width="42.6" height="2" fill="url(#gh1)"/>
<rect x="254.9" y="200" width="5" height="2" fill="#efc693"/><rect x="257.9" y="200" width="43.0" height="2" fill="url(#gh1)"/>
<rect x="255.5" y="202" width="5" height="2" fill="#efc693"/><rect x="258.5" y="202" width="43.3" height="2" fill="url(#gh1)"/>
<rect x="256.2" y="204" width="5" height="2" fill="#efc693"/><rect x="259.2" y="204" width="43.7" height="2" fill="url(#gh1)"/>
<rect x="256.8" y="206" width="5" height="2" fill="#efc593"/><rect x="259.8" y="206" width="44.1" height="2" fill="url(#gh1)"/>
<rect x="257.4" y="208" width="5" height="2" fill="#efc593"/><rect x="260.4" y="208" width="44.4" height="2" fill="url(#gh1)"/>
<rect x="258.0" y="210" width="5" height="2" fill="#eec594"/><rect x="261.0" y="210" width="44.8" height="2" fill="url(#gh2)"/>
<rect x="258.6" y="212" width="5" height="2" fill="#eec594"/><rect x="261.6" y="212" width="45.2" height="2" fill="url(#gh2)"/>
<rect x="259.2" y="214" width="5" height="2" fill="#eec594"/><rect x="262.2" y="214" width="45.5" height="2" fill="url(#gh2)"/>
<rect x="259.8" y="216" width="5" height="2" fill="#eec594"/><rect x="262.8" y="216" width="45.9" height="2" fill="url(#gh2)"/>
<rect x="260.4" y="218" width="5" height="2" fill="#eec594"/><rect x="263.4" y="218" width="46.3" height="2" fill="url(#gh2)"/>
<rect x="260.9" y="220" width="5" height="2" fill="#eec594"/><rect x="263.9" y="220" width="46.6" height="2" fill="url(#gh2)"/>
<rect x="261.5" y="222" width="5" height="2" fill="#eec594"/><rect x="264.5" y="222" width="47.0" height="2" fill="url(#gh2)"/>
<rect x="262.1" y="224" width="5" height="2" fill="#eec595"/><rect x="265.1" y="224" width="47.4" height="2" fill="url(#gh2)"/>
<rect x="262.6" y="226" width="5" height="2" fill="#edc495"/><rect x="265.6" y="226" width="47.8" height="2" fill="url(#gh2)"/>
<rect x="263.2" y="228" width="5" height="2" fill="#edc495"/><rect x="266.2" y="228" width="48.1" height="2" fill="url(#gh2)"/>
<rect x="263.7" y="230" width="5" height="2" fill="#edc495"/><rect x="266.7" y="230" width="48.5" height="2" fill="url(#gh2)"/>
<rect x="264.3" y="232" width="5" height="2" fill="#edc495"/><rect x="267.3" y="232" width="48.9" height="2" fill="url(#gh2)"/>
<rect x="264.8" y="234" width="5" height="2" fill="#edc495"/><rect x="267.8" y="234" width="49.2" height="2" fill="url(#gh2)"/>
<rect x="265.3" y="236" width="5" height="2" fill="#edc495"/><rect x="268.3" y="236" width="49.6" height="2" fill="url(#gh3)"/>
<rect x="265.9" y="238" width="5" height="2" fill="#edc496"/><rect x="268.9" y="238" width="50.0" height="2" fill="url(#gh3)"/>
<rect x="266.4" y="240" width="5" height="2" fill="#ecc396"/><rect x="269.4" y="240" width="50.3" height="2" fill="url(#gh3)"/>
<rect x="266.9" y="242" width="5" height="2" fill="#ecc396"/><rect x="269.9" y="242" width="50.7" height="2" fill="url(#gh3)"/>
<rect x="267.4" y="244" width="5" height="2" fill="#ecc396"/><rect x="270.4" y="244" width="51.1" height="2" fill="url(#gh3)"/>
<rect x="267.9" y="246" width="5" height="2" fill="#ecc396"/><rect x="270.9" y="246" width="51.4" height="2" fill="url(#gh3)"/>
<rect x="268.4" y="248" width="5" height="2" fill="#ecc396"/><rect x="271.4" y="248" width="51.8" height="2" fill="url(#gh3)"/>
<rect x="268.8" y="250" width="5" height="2" fill="#ecc397"/><rect x="271.8" y="250" width="52.3" height="2" fill="url(#gh3)"/>
<rect x="269.3" y="252" width="5" height="2" fill="#ebc297"/><rect x="272.3" y="252" width="52.8" height="2" fill="url(#gh3)"/>
<rect x="269.8" y="254" width="5" height="2" fill="#ebc297"/><rect x="272.8" y="254" width="53.4" height="2" fill="url(#gh3)"/>
<rect x="270.3" y="256" width="5" height="2" fill="#ebc298"/><rect x="273.3" y="256" width="54.0" height="2" fill="url(#gh4)"/>
<rect x="270.7" y="258" width="5" height="2" fill="#ebc198"/><rect x="273.7" y="258" width="54.5" height="2" fill="url(#gh4)"/>
<rect x="271.2" y="260" width="5" height="2" fill="#eac198"/><rect x="274.2" y="260" width="55.1" height="2" fill="url(#gh4)"/>
<rect x="271.6" y="262" width="5" height="2" fill="#eac199"/><rect x="274.6" y="262" width="55.6" height="2" fill="url(#gh4)"/>
<rect x="272.0" y="264" width="5" height="2" fill="#eac199"/><rect x="275.0" y="264" width="56.2" height="2" fill="url(#gh4)"/>
<rect x="272.5" y="266" width="5" height="2" fill="#e9c099"/><rect x="275.5" y="266" width="56.8" height="2" fill="url(#gh4)"/>
<rect x="272.9" y="268" width="5" height="2" fill="#e9c09a"/><rect x="275.9" y="268" width="57.3" height="2" fill="url(#gh5)"/>
<rect x="273.3" y="270" width="5" height="2" fill="#e9c09a"/><rect x="276.3" y="270" width="57.9" height="2" fill="url(#gh5)"/>
<rect x="273.7" y="272" width="5" height="2" fill="#e9bf9a"/><rect x="276.7" y="272" width="58.4" height="2" fill="url(#gh5)"/>
<rect x="274.1" y="274" width="5" height="2" fill="#e8bf9b"/><rect x="277.1" y="274" width="59.0" height="2" fill="url(#gh5)"/>
<rect x="274.5" y="276" width="5" height="2" fill="#e8bf9b"/><rect x="277.5" y="276" width="59.6" height="2" fill="url(#gh5)"/>
<rect x="274.9" y="278" width="5" height="2" fill="#e8be9b"/><rect x="277.9" y="278" width="60.1" height="2" fill="url(#gh5)"/>
<rect x="275.3" y="280" width="5" height="2" fill="#e7be9c"/><rect x="278.3" y="280" width="60.7" height="2" fill="url(#gh6)"/>
<rect x="275.7" y="282" width="5" height="2" fill="#e7be9c"/><rect x="278.7" y="282" width="61.2" height="2" fill="url(#gh6)"/>
<rect x="276.0" y="284" width="5" height="2" fill="#e7be9c"/><rect x="279.0" y="284" width="61.8" height="2" fill="url(#gh6)"/>
<rect x="276.4" y="286" width="5" height="2" fill="#e7bd9d"/><rect x="279.4" y="286" width="62.4" height="2" fill="url(#gh6)"/>
<rect x="276.7" y="288" width="5" height="2" fill="#e6bd9d"/><rect x="279.7" y="288" width="62.9" height="2" fill="url(#gh6)"/>
<rect x="277.1" y="290" width="5" height="2" fill="#e6bd9d"/><rect x="280.1" y="290" width="63.5" height="2" fill="url(#gh6)"/>
<rect x="277.4" y="292" width="5" height="2" fill="#e6bc9e"/><rect x="280.4" y="292" width="64.0" height="2" fill="url(#gh7)"/>
<rect x="277.7" y="294" width="5" height="2" fill="#e5bc9e"/><rect x="280.7" y="294" width="64.6" height="2" fill="url(#gh7)"/>
<rect x="278.1" y="296" width="5" height="2" fill="#e5bc9e"/><rect x="281.1" y="296" width="65.2" height="2" fill="url(#gh7)"/>
<rect x="278.4" y="298" width="5" height="2" fill="#e5bb9f"/><rect x="281.4" y="298" width="65.7" height="2" fill="url(#gh7)"/>
<rect x="278.7" y="300" width="5" height="2" fill="#e5bb9f"/><rect x="281.7" y="300" width="66.2" height="2" fill="url(#gh7)"/>
<rect x="279.0" y="302" width="5" height="2" fill="#e4bb9f"/><rect x="282.0" y="302" width="66.6" height="2" fill="url(#gh7)"/>
<rect x="279.3" y="304" width="5" height="2" fill="#e4bb9f"/><rect x="282.3" y="304" width="67.0" height="2" fill="url(#gh7)"/>
<rect x="279.6" y="306" width="5" height="2" fill="#e4bba0"/><rect x="282.6" y="306" width="67.4" height="2" fill="url(#gh8)"/>
<rect x="279.9" y="308" width="5" height="2" fill="#e4baa0"/><rect x="282.9" y="308" width="67.8" height="2" fill="url(#gh8)"/>
<rect x="280.1" y="310" width="5" height="2" fill="#e3baa0"/><rect x="283.1" y="310" width="68.2" height="2" fill="url(#gh8)"/>
<rect x="280.4" y="312" width="5" height="2" fill="#e3baa0"/><rect x="283.4" y="312" width="68.6" height="2" fill="url(#gh8)"/>
<rect x="280.7" y="314" width="5" height="2" fill="#e3baa1"/><rect x="283.7" y="314" width="69.0" height="2" fill="url(#gh8)"/>
<rect x="280.9" y="316" width="5" height="2" fill="#e3b9a1"/><rect x="283.9" y="316" width="69.4" height="2" fill="url(#gh8)"/>
<rect x="281.2" y="318" width="5" height="2" fill="#e3b9a1"/><rect x="284.2" y="318" width="69.8" height="2" fill="url(#gh8)"/>
<rect x="281.4" y="320" width="5" height="2" fill="#e2b9a1"/><rect x="284.4" y="320" width="70.2" height="2" fill="url(#gh8)"/>
<rect x="281.6" y="322" width="5" height="2" fill="#e2b9a2"/><rect x="284.6" y="322" width="70.6" height="2" fill="url(#gh9)"/>
<rect x="281.7" y="324" width="5" height="2" fill="#e2b9a2"/><rect x="284.7" y="324" width="71.0" height="2" fill="url(#gh9)"/>
<rect x="281.8" y="326" width="5" height="2" fill="#e2b8a2"/><rect x="284.8" y="326" width="71.4" height="2" fill="url(#gh9)"/>
<rect x="282.0" y="328" width="5" height="2" fill="#e2b8a2"/><rect x="285.0" y="328" width="71.8" height="2" fill="url(#gh9)"/>
<rect x="282.0" y="330" width="5" height="2" fill="#e2b8a2"/><rect x="285.0" y="330" width="72.0" height="2" fill="url(#gh9)"/>
</g>
<path d="M219.6 101.3 L225.7 103.7 L231.7 106.3 L237.6 108.9 L243.5 111.7 L249.4 114.6 L255.1 117.6 L260.9 120.7 L266.5 123.9 L272.2 127.2 L277.7 130.6 L283.2 134.1 L288.6 137.6 L294.0 141.3 L299.4 145.1 L304.6 148.9 L309.8 152.8 L315.0 156.8 L320.1 160.9 L325.1 165.0 L330.1 169.2 L335.0 173.5 L339.8 177.9 L344.6 182.3 L349.4 186.7 L354.1 191.3 L358.7 195.9 L363.2 200.5 L367.7 205.2 L372.1 210.0 L376.4 214.8 L380.6 219.8 L384.8 224.7 L388.9 229.8 L392.9 235.0 L396.8 240.2 L400.6 245.4 L404.3 250.8 L408.0 256.2 L411.6 261.6 L415.1 267.1 L418.6 272.7 L421.9 278.3 L425.2 283.9 L428.3 289.6 L431.4 295.4 L434.3 301.2 L437.2 307.0 L439.9 312.9 L442.2 319.0 L442.2 319.0 L437.8 315.0 L433.3 311.0 L428.9 307.1 L424.4 303.1 L419.9 299.2 L415.4 295.3 L410.9 291.4 L406.3 287.5 L401.8 283.7 L397.2 279.8 L392.6 276.0 L388.0 272.2 L383.3 268.5 L378.7 264.7 L374.0 261.0 L369.3 257.4 L364.5 253.7 L359.8 250.1 L355.0 246.6 L350.2 243.0 L345.3 239.6 L340.4 236.1 L335.5 232.7 L330.6 229.4 L325.7 226.0 L320.7 222.8 L315.6 219.6 L310.6 216.4 L305.5 213.3 L300.4 210.2 L295.2 207.2 L290.0 204.3 L284.8 201.4 L279.6 198.6 L274.3 195.8 L268.9 193.1 L263.6 190.5 L258.2 188.0 L252.7 185.6 Z" fill="url(#gP)"/>
<g fill="none" stroke="#301c1c" stroke-opacity="0.85" stroke-width="0.9" stroke-linejoin="round">
<path d="M62.0 24.0 L69.3 25.0 L76.5 26.0 L83.8 27.1 L91.0 28.3 L98.3 29.5 L105.5 30.7 L112.7 32.0 L119.9 33.4 L127.1 34.9 L134.2 36.4 L141.4 38.0 L148.5 39.7 L155.6 41.4 L162.7 43.2 L169.8 45.0 L176.9 46.9 L184.0 48.8 L191.1 50.7 L198.1 52.6 L205.2 54.6 L212.3 56.5 L219.3 58.5 L226.3 60.6 L233.4 62.7 L240.4 64.8 L247.3 67.1 L254.3 69.3 L261.2 71.7 L268.1 74.2 L275.0 76.7 L281.9 79.3 L288.7 82.0 L295.5 84.8 L302.2 87.6" stroke-width="1.1" stroke-dasharray="3 1 1 1"/>
<path d="M302.2 87.6 L308.9 90.6 L315.6 93.6 L322.2 96.7 L328.8 99.9 L335.3 103.3 L341.8 106.7 L348.2 110.2 L354.6 113.8 L360.9 117.6 L367.1 121.4 L373.3 125.4 L379.4 129.5 L385.4 133.7 L391.3 138.0 L397.2 142.4 L402.9 147.0 L408.6 151.7 L414.1 156.5 L419.6 161.5 L424.9 166.5 L430.0 171.7 L435.1 177.1 L439.9 182.5 L444.7 188.1 L449.2 193.8 L453.6 199.7 L457.8 205.6 L461.9 211.7 L465.7 218.0 L469.3 224.3 L472.8 230.8 L476.0 237.4 L479.0 244.1 L481.8 250.9 L484.4 257.7 L486.8 264.7 L489.0 271.7 L490.9 278.8 L492.6 285.9 L494.1 293.1 L495.3 300.3 L496.3 307.6 L497.1 314.9 L497.6 322.2 L497.8 329.5" stroke="#5a4a3a" stroke-width="0.8" stroke-dasharray="3 1 1 1"/>
<path d="M194.0 52.4 L197.4 59.1 L201.0 65.7 L204.6 72.4 L208.0 79.1 L211.4 85.8 L214.8 92.5 L218.0 99.3 L221.2 106.1 L224.3 113.0 L227.4 119.8 L230.4 126.7 L233.3 133.7 L236.2 140.6 L239.0 147.6 L241.7 154.6 L244.3 161.7 L246.9 168.7 L249.5 175.8 L251.9 182.9 L254.4 190.1 L256.7 197.2 L259.0 204.4 L261.2 211.6 L263.3 218.9 L265.4 226.1 L267.4 233.4 L269.3 240.7 L271.1 248.0 L272.9 255.3 L274.5 262.6 L276.1 270.0 L277.6 277.4 L279.0 284.8 L280.3 292.2 L281.5 299.6 L282.6 307.0 L283.6 314.5 L284.5 322.0 L285.0 329.5" stroke="#5c3a1c" stroke-width="1.05" stroke-dasharray="2.6 1"/>
<path d="M300.0 87.2 L304.5 91.1 L309.0 94.9 L313.4 98.7 L317.8 102.7 L322.1 106.6 L326.4 110.7 L330.6 114.8 L334.8 118.9 L338.9 123.1 L343.0 127.4 L347.0 131.7 L351.0 136.1 L354.9 140.5 L358.7 145.0 L362.5 149.5 L366.2 154.1 L369.8 158.8 L373.4 163.5 L377.0 168.2 L380.4 173.0 L383.8 177.8 L387.1 182.7 L390.3 187.6 L393.5 192.6 L396.6 197.6 L399.6 202.7 L402.6 207.8 L405.4 213.0 L408.2 218.2 L410.9 223.4 L413.5 228.7 L416.0 234.0 L418.5 239.3 L420.8 244.7 L423.1 250.2 L425.3 255.6 L427.4 261.1 L429.4 266.6 L431.3 272.2 L433.1 277.8 L434.8 283.4 L436.4 289.1 L438.0 294.8 L439.4 300.5 L440.7 306.3 L441.9 312.1 L443.0 317.9 L444.0 323.7 L445.0 329.5" stroke="#7a4e10" stroke-width="0.85" stroke-dasharray="4 1.2"/>
<path d="M219.6 101.3 L225.7 103.7 L231.7 106.3 L237.6 108.9 L243.5 111.7 L249.4 114.6 L255.1 117.6 L260.9 120.7 L266.5 123.9 L272.2 127.2 L277.7 130.6 L283.2 134.1 L288.6 137.6 L294.0 141.3 L299.4 145.1 L304.6 148.9 L309.8 152.8 L315.0 156.8 L320.1 160.9 L325.1 165.0 L330.1 169.2 L335.0 173.5 L339.8 177.9 L344.6 182.3 L349.4 186.7 L354.1 191.3 L358.7 195.9 L363.2 200.5 L367.7 205.2 L372.1 210.0 L376.4 214.8 L380.6 219.8 L384.8 224.7 L388.9 229.8 L392.9 235.0 L396.8 240.2 L400.6 245.4 L404.3 250.8 L408.0 256.2 L411.6 261.6 L415.1 267.1 L418.6 272.7 L421.9 278.3 L425.2 283.9 L428.3 289.6 L431.4 295.4 L434.3 301.2 L437.2 307.0 L439.9 312.9 L442.2 319.0" stroke="#2a2428" stroke-width="1" stroke-dasharray="5 1"/>
<path d="M252.7 185.6 L258.2 188.0 L263.6 190.5 L268.9 193.1 L274.3 195.8 L279.6 198.6 L284.8 201.4 L290.0 204.3 L295.2 207.2 L300.4 210.2 L305.5 213.3 L310.6 216.4 L315.6 219.6 L320.7 222.8 L325.7 226.0 L330.6 229.4 L335.5 232.7 L340.4 236.1 L345.3 239.6 L350.2 243.0 L355.0 246.6 L359.8 250.1 L364.5 253.7 L369.3 257.4 L374.0 261.0 L378.7 264.7 L383.3 268.5 L388.0 272.2 L392.6 276.0 L397.2 279.8 L401.8 283.7 L406.3 287.5 L410.9 291.4 L415.4 295.3 L419.9 299.2 L424.4 303.1 L428.9 307.1 L433.3 311.0 L437.8 315.0 L442.2 319.0" stroke="#2a2428" stroke-width="1" stroke-dasharray="5 1"/>
<path d="M219.1 101.6 L219.4 102.2 L219.7 102.9 L220.0 103.5 L220.3 104.2 L220.6 104.9 L221.0 105.5 L221.3 106.2 L221.6 106.9 L221.9 107.5 L222.2 108.2 L222.5 108.9 L222.8 109.6 L223.1 110.2 L223.4 110.9 L223.7 111.6 L224.0 112.2 L224.3 112.9 L224.6 113.6 L224.9 114.2 L225.2 114.9 L225.5 115.6 L225.8 116.3 L226.1 116.9 L226.4 117.6 L226.7 118.3 L227.0 118.9 L227.3 119.6 L227.6 120.3 L227.9 121.0 L228.2 121.6 L228.5 122.3 L228.8 123.0 L229.1 123.7 L229.4 124.3 L229.7 125.0 L229.9 125.7 L230.2 126.4 L230.5 127.0 L230.8 127.7 L231.1 128.4 L231.4 129.1 L231.7 129.7 L232.0 130.4 L232.2 131.1 L232.5 131.8 L232.8 132.5 L233.1 133.1 L233.4 133.8 L233.7 134.5 L233.9 135.2 L234.2 135.9 L234.5 136.5 L234.8 137.2 L235.1 137.9 L235.3 138.6 L235.6 139.3 L235.9 139.9 L236.2 140.6 L236.4 141.3 L236.7 142.0 L237.0 142.7 L237.3 143.3 L237.5 144.0 L237.8 144.7 L238.1 145.4 L238.4 146.1 L238.6 146.8 L238.9 147.4 L239.2 148.1 L239.4 148.8 L239.7 149.5 L240.0 150.2 L240.2 150.9 L240.5 151.6 L240.8 152.2 L241.0 152.9 L241.3 153.6 L241.6 154.3 L241.8 155.0 L242.1 155.7 L242.3 156.4 L242.6 157.1 L242.9 157.7 L243.1 158.4 L243.4 159.1 L243.7 159.8 L243.9 160.5 L244.2 161.2 L244.4 161.9 L244.7 162.6 L244.9 163.3 L245.2 163.9 L245.4 164.6 L245.7 165.3 L246.0 166.0 L246.2 166.7 L246.5 167.4 L246.7 168.1 L247.0 168.8 L247.2 169.5 L247.5 170.2 L247.7 170.9 L248.0 171.6 L248.2 172.2 L248.5 172.9 L248.7 173.6 L248.9 174.3 L249.2 175.0 L249.4 175.7 L249.7 176.4 L249.9 177.1 L250.2 177.8 L250.4 178.5 L250.7 179.2 L250.9 179.9 L251.1 180.6 L251.4 181.3 L251.6 182.0 L251.9 182.7 L252.1 183.4 L252.3 184.1 L252.6 184.8 L252.8 185.5" stroke="#2a2428" stroke-width="1.1" stroke-dasharray="5 1"/>
</g>
<g stroke-width="1.25"><line x1="72.6" y1="329.5" x2="72.6" y2="323.0" stroke="#1a0f8c" stroke-width="1.6"/>
<line x1="72.6" y1="4.8" x2="72.6" y2="11.3" stroke="#8a0818" stroke-width="1.5"/>
<line x1="99.2" y1="329.5" x2="99.2" y2="326.3" stroke="#1a0f8c" stroke-width="1.6"/>
<line x1="99.2" y1="4.8" x2="99.2" y2="8.0" stroke="#8a0818" stroke-width="1.5"/>
<line x1="125.8" y1="329.5" x2="125.8" y2="323.0" stroke="#1a0f8c" stroke-width="1.6"/>
<line x1="125.8" y1="4.8" x2="125.8" y2="11.3" stroke="#8a0818" stroke-width="1.5"/>
<line x1="152.4" y1="329.5" x2="152.4" y2="326.3" stroke="#1a0f8c" stroke-width="1.6"/>
<line x1="152.4" y1="4.8" x2="152.4" y2="8.0" stroke="#8a4a30" stroke-width="1.25"/>
<line x1="178.9" y1="329.5" x2="178.9" y2="323.0" stroke="#1a0f8c" stroke-width="1.6"/>
<line x1="178.9" y1="4.8" x2="178.9" y2="11.3" stroke="#8a4a30" stroke-width="1.25"/>
<line x1="205.5" y1="329.5" x2="205.5" y2="326.3" stroke="#3a2890" stroke-width="1.6"/>
<line x1="205.5" y1="4.8" x2="205.5" y2="8.0" stroke="#8a6a34" stroke-width="1.25"/>
<line x1="232.1" y1="329.5" x2="232.1" y2="323.0" stroke="#6a4868" stroke-width="1.25"/>
<line x1="232.1" y1="4.8" x2="232.1" y2="11.3" stroke="#8a6a34" stroke-width="1.25"/>
<line x1="258.7" y1="329.5" x2="258.7" y2="326.3" stroke="#6a4868" stroke-width="1.25"/>
<line x1="258.7" y1="4.8" x2="258.7" y2="8.0" stroke="#8a6a34" stroke-width="1.25"/>
<line x1="285.3" y1="329.5" x2="285.3" y2="323.0" stroke="#8a6a34" stroke-width="1.25"/>
<line x1="285.3" y1="4.8" x2="285.3" y2="11.3" stroke="#8a6a34" stroke-width="1.25"/>
<line x1="311.9" y1="329.5" x2="311.9" y2="326.3" stroke="#8a6a34" stroke-width="1.25"/>
<line x1="311.9" y1="4.8" x2="311.9" y2="8.0" stroke="#8a6a34" stroke-width="1.25"/>
<line x1="338.5" y1="329.5" x2="338.5" y2="323.0" stroke="#8a6a34" stroke-width="1.25"/>
<line x1="338.5" y1="4.8" x2="338.5" y2="11.3" stroke="#8a6a34" stroke-width="1.25"/>
<line x1="365.1" y1="329.5" x2="365.1" y2="326.3" stroke="#8a6a34" stroke-width="1.25"/>
<line x1="365.1" y1="4.8" x2="365.1" y2="8.0" stroke="#8a6a34" stroke-width="1.25"/>
<line x1="391.7" y1="329.5" x2="391.7" y2="323.0" stroke="#8a6a34" stroke-width="1.25"/>
<line x1="391.7" y1="4.8" x2="391.7" y2="11.3" stroke="#8a6a34" stroke-width="1.25"/>
<line x1="418.2" y1="329.5" x2="418.2" y2="326.3" stroke="#8a6a34" stroke-width="1.25"/>
<line x1="418.2" y1="4.8" x2="418.2" y2="8.0" stroke="#8a6a34" stroke-width="1.25"/>
<line x1="444.8" y1="329.5" x2="444.8" y2="323.0" stroke="#8a6a34" stroke-width="1.25"/>
<line x1="444.8" y1="4.8" x2="444.8" y2="11.3" stroke="#8a6a34" stroke-width="1.25"/>
<line x1="471.4" y1="329.5" x2="471.4" y2="326.3" stroke="#8a6a34" stroke-width="1.25"/>
<line x1="471.4" y1="4.8" x2="471.4" y2="8.0" stroke="#8a6a34" stroke-width="1.25"/>
<line x1="498.0" y1="329.5" x2="498.0" y2="323.0" stroke="#8a6a34" stroke-width="1.25"/>
<line x1="498.0" y1="4.8" x2="498.0" y2="11.3" stroke="#8a6a34" stroke-width="1.25"/>
<line x1="524.6" y1="329.5" x2="524.6" y2="326.3" stroke="#8a6a34" stroke-width="1.25"/>
<line x1="524.6" y1="4.8" x2="524.6" y2="8.0" stroke="#8a6a34" stroke-width="1.25"/>
<line x1="62.0" y1="329.8" x2="68.5" y2="329.8" stroke="#1a0f8c" stroke-width="1.7"/>
<line x1="540.4" y1="329.8" x2="533.9" y2="329.8" stroke="#8a6a34"/>
<line x1="62.0" y1="311.1" x2="65.2" y2="311.1" stroke="#1a0f8c" stroke-width="1.7"/>
<line x1="540.4" y1="311.1" x2="537.1999999999999" y2="311.1" stroke="#8a6a34"/>
<line x1="62.0" y1="292.4" x2="68.5" y2="292.4" stroke="#1a0f8c" stroke-width="1.7"/>
<line x1="540.4" y1="292.4" x2="533.9" y2="292.4" stroke="#8a6a34"/>
<line x1="62.0" y1="273.7" x2="65.2" y2="273.7" stroke="#1a0f8c" stroke-width="1.7"/>
<line x1="540.4" y1="273.7" x2="537.1999999999999" y2="273.7" stroke="#8a6a34"/>
<line x1="62.0" y1="255.0" x2="68.5" y2="255.0" stroke="#1a0f8c" stroke-width="1.7"/>
<line x1="540.4" y1="255.0" x2="533.9" y2="255.0" stroke="#8a6a34"/>
<line x1="62.0" y1="236.3" x2="65.2" y2="236.3" stroke="#1a0f8c" stroke-width="1.7"/>
<line x1="540.4" y1="236.3" x2="537.1999999999999" y2="236.3" stroke="#8a6a34"/>
<line x1="62.0" y1="217.6" x2="68.5" y2="217.6" stroke="#1a0f8c" stroke-width="1.7"/>
<line x1="540.4" y1="217.6" x2="533.9" y2="217.6" stroke="#8a6a34"/>
<line x1="62.0" y1="198.9" x2="65.2" y2="198.9" stroke="#1a0f8c" stroke-width="1.7"/>
<line x1="540.4" y1="198.9" x2="537.1999999999999" y2="198.9" stroke="#8a6a34"/>
<line x1="62.0" y1="180.2" x2="68.5" y2="180.2" stroke="#1a0f8c" stroke-width="1.7"/>
<line x1="540.4" y1="180.2" x2="533.9" y2="180.2" stroke="#8a6a34"/>
<line x1="62.0" y1="161.5" x2="65.2" y2="161.5" stroke="#1a0f8c" stroke-width="1.7"/>
<line x1="540.4" y1="161.5" x2="537.1999999999999" y2="161.5" stroke="#8a6a34"/>
<line x1="62.0" y1="142.8" x2="68.5" y2="142.8" stroke="#1a0f8c" stroke-width="1.7"/>
<line x1="540.4" y1="142.8" x2="533.9" y2="142.8" stroke="#8a6a34"/>
<line x1="62.0" y1="124.1" x2="65.2" y2="124.1" stroke="#1a0f8c" stroke-width="1.7"/>
<line x1="540.4" y1="124.1" x2="537.1999999999999" y2="124.1" stroke="#8a6a34"/>
<line x1="62.0" y1="105.4" x2="68.5" y2="105.4" stroke="#1a0f8c" stroke-width="1.7"/>
<line x1="540.4" y1="105.4" x2="533.9" y2="105.4" stroke="#8a6a34"/>
<line x1="62.0" y1="86.7" x2="65.2" y2="86.7" stroke="#1a0f8c" stroke-width="1.7"/>
<line x1="540.4" y1="86.7" x2="537.1999999999999" y2="86.7" stroke="#8a6a34"/>
<line x1="62.0" y1="68.0" x2="68.5" y2="68.0" stroke="#1a0f8c" stroke-width="1.7"/>
<line x1="540.4" y1="68.0" x2="533.9" y2="68.0" stroke="#8a6a34"/>
<line x1="62.0" y1="49.3" x2="65.2" y2="49.3" stroke="#1a0f8c" stroke-width="1.7"/>
<line x1="540.4" y1="49.3" x2="537.1999999999999" y2="49.3" stroke="#8a6a34"/>
<line x1="62.0" y1="30.6" x2="68.5" y2="30.6" stroke="#1a0f8c" stroke-width="1.7"/>
<line x1="540.4" y1="30.6" x2="533.9" y2="30.6" stroke="#8a6a34"/>
<line x1="62.0" y1="11.9" x2="65.2" y2="11.9" stroke="#8a0818" stroke-width="1.7"/>
<line x1="540.4" y1="11.9" x2="537.1999999999999" y2="11.9" stroke="#8a6a34"/></g><rect x="62.0" y="4.8" width="478.4" height="324.7" fill="none" stroke="#000" stroke-width="1.6"/><g font-family="Liberation Serif, Times New Roman, serif" fill="#000"><text x="72.6" y="348.7" font-size="17" text-anchor="middle">0.00</text>
<text x="125.8" y="348.7" font-size="17" text-anchor="middle">0.05</text>
<text x="178.9" y="348.7" font-size="17" text-anchor="middle">0.10</text>
<text x="232.1" y="348.7" font-size="17" text-anchor="middle">0.15</text>
<text x="285.3" y="348.7" font-size="17" text-anchor="middle">0.20</text>
<text x="338.5" y="348.7" font-size="17" text-anchor="middle">0.25</text>
<text x="391.7" y="348.7" font-size="17" text-anchor="middle">0.30</text>
<text x="444.8" y="348.7" font-size="17" text-anchor="middle">0.35</text>
<text x="498.0" y="348.7" font-size="17" text-anchor="middle">0.40</text>
<text x="55.5" y="334.5" font-size="17" text-anchor="end">0</text>
<text x="55.5" y="297.1" font-size="17" text-anchor="end">100</text>
<text x="55.5" y="259.7" font-size="17" text-anchor="end">200</text>
<text x="55.5" y="222.3" font-size="17" text-anchor="end">300</text>
<text x="55.5" y="184.9" font-size="17" text-anchor="end">400</text>
<text x="55.5" y="147.5" font-size="17" text-anchor="end">500</text>
<text x="55.5" y="110.1" font-size="17" text-anchor="end">600</text>
<text x="55.5" y="72.7" font-size="17" text-anchor="end">700</text>
<text x="55.5" y="35.3" font-size="17" text-anchor="end">800</text>
<text x="74.6" y="22.5" font-size="17.5">O-phase</text>
<text x="370.3" y="76.3" font-size="26.4">C-phase</text>
<text x="110.5" y="195.6" font-size="26.1">R-phase</text>
<text x="258.7" y="114.9" font-size="21.3">R+PC</text>
<text x="302.5" y="289.2" font-size="21.3">R+PC</text>
<text x="280.5" y="184.6" font-size="21.3">R<tspan font-size="15" dx="-1.2" dy="-8.6">+</tspan></text>
<text x="453.1" y="255" font-size="14.5" text-anchor="middle">PC-phase</text>
<text x="453" y="272.3" font-size="14.5" text-anchor="middle">FE</text>
<text x="205" y="377.7" font-size="18.5">(1-x)BiFeO<tspan font-size="11.5" dy="7.6">3</tspan><tspan dy="-7.6">-(x)BaTiO</tspan><tspan font-size="11.5" dy="7.6">3</tspan></text>
<text transform="translate(20.8 210) rotate(-90)" font-size="18.5">Temperature (C)</text></g></svg>
</body></html>
